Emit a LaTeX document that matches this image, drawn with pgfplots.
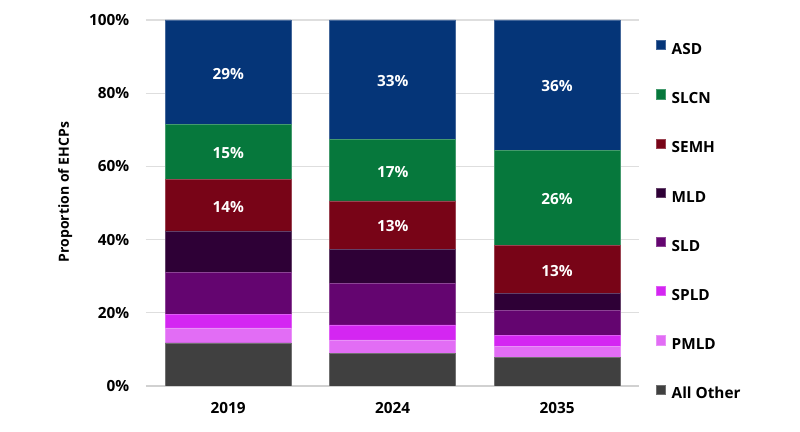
\documentclass[border=0pt]{standalone}
\usepackage{pgfplots}
\usepackage{pgfplotstable}
\usepackage{fontspec}
\setmainfont{Open Sans}
\pgfplotsset{compat=1.18}
\definecolor{cASD}{HTML}{053578}
\definecolor{cSLCN}{HTML}{06783C}
\definecolor{cSEMH}{HTML}{780417}
\definecolor{cMLD}{HTML}{2E0036}
\definecolor{cSLD}{HTML}{640570}
\definecolor{cSPLD}{HTML}{D426F2}
\definecolor{cPMLD}{HTML}{E26DF5}
\definecolor{cOther}{HTML}{404040}
\pgfplotstableread{
x other pmld spld sld mld semh slcn asd
0 11.8 4.1 3.6 11.6 11.3 14.0 15.0 28.6
1 8.9 3.7 4.1 11.4 9.2 13.3 16.7 32.7
2 7.8 3.1 3.0 6.7 4.7 13.2 25.9 35.6
}\datatable
\newcommand{\lfont}{\fontsize{11.5}{13}\selectfont\bfseries}
\newcommand{\yfont}{\fontsize{10.5}{12}\selectfont\bfseries}
\begin{document}
\begin{tikzpicture}
\begin{axis}[
  at={(0,0)}, anchor=south west,
  scale only axis, width=370pt, height=274.5pt,
  ybar stacked, bar width=0.766,
  xmin=-0.5, xmax=2.5, ymin=0, ymax=100,
  xtick={0,1,2}, xticklabels={2019,2024,2035},
  ytick={0,20,40,60,80,100},
  yticklabel={\pgfmathprintnumber{\tick}\%},
  /pgf/number format/assume math mode=true,
  ticklabel style={font=\lfont},
  yticklabel style={xshift=-9pt},
  xticklabel style={yshift=-8.5pt},
  major tick length=0pt,
  axis x line*=bottom, axis y line*=left,
  x axis line style={draw=black!18, line width=0.8pt, -},
  y axis line style={draw=none},
  ymajorgrids, major grid style={draw=black!13, line width=0.8pt},
  ylabel={Proportion of EHCPs},
  ylabel style={font=\yfont, at={(axis description cs:-0.164,0.53)}, anchor=center},
  legend style={at={(1,1)}, anchor=north west, xshift=12pt, yshift=-15pt,
    draw=none, fill=none, inner sep=0pt, row sep=24.3pt, font=\lfont,
    nodes={inner sep=0pt, text height=8.5pt, text depth=2pt}},
  /tikz/every odd column/.append style={column sep=5pt},
  legend cell align=left, reverse legend,
  legend image code/.code={\fill[#1] (0pt,0.4pt) rectangle (6.8pt,7.2pt);},
  lbl/.style={
    visualization depends on={\thisrow{#1}\as\hval},
    nodes near coords={\pgfmathprintnumber[fixed,precision=0]{\hval}\%},
    every node near coord/.style={font=\lfont, text=white, anchor=center, yshift=-1pt}},
]
\addplot[fill=cOther, draw=cOther!75!white, line width=0.3pt] table[x=x,y=other]{\datatable};
\addplot[fill=cPMLD, draw=cPMLD!75!white, line width=0.3pt] table[x=x,y=pmld]{\datatable};
\addplot[fill=cSPLD, draw=cSPLD!75!white, line width=0.3pt] table[x=x,y=spld]{\datatable};
\addplot[fill=cSLD, draw=cSLD!75!white, line width=0.3pt] table[x=x,y=sld]{\datatable};
\addplot[fill=cMLD, draw=cMLD!75!white, line width=0.3pt] table[x=x,y=mld]{\datatable};
\addplot[fill=cSEMH, draw=cSEMH!75!white, line width=0.3pt, lbl=semh] table[x=x,y=semh]{\datatable};
\addplot[fill=cSLCN, draw=cSLCN!75!white, line width=0.3pt, lbl=slcn] table[x=x,y=slcn]{\datatable};
\addplot[fill=cASD, draw=cASD!75!white, line width=0.3pt, lbl=asd] table[x=x,y=asd]{\datatable};
\legend{All Other,PMLD,SPLD,SLD,MLD,SEMH,SLCN,ASD}
\end{axis}
\pgfresetboundingbox
\path[use as bounding box] (-109.5pt,-34.5pt) rectangle (490.5pt,289.5pt);
\end{tikzpicture}
\end{document}
